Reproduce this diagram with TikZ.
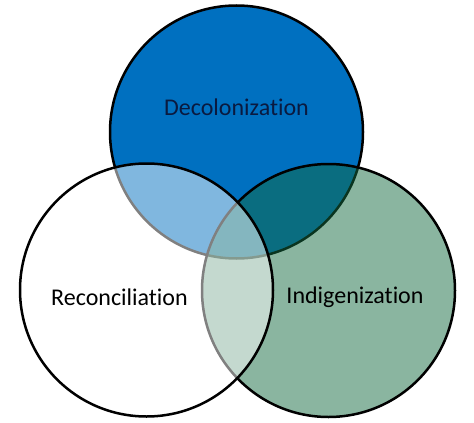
\documentclass[tikz,border=0pt]{standalone}
\usepackage{fontspec}
\setmainfont[Ligatures={NoCommon,NoContextual}]{Carlito}
\usepackage{tikz}
\usetikzlibrary{positioning}
\definecolor{decoblue}{RGB}{0,112,192}
\definecolor{indigreen}{RGB}{21,107,65}
\definecolor{decotext}{RGB}{10,26,64}

\begin{document}
\begin{tikzpicture}[x=1pt,y=-1pt,
    venn/.style={circle,draw=black,line width=2.5pt,minimum size=253pt,inner sep=0pt},
    lbl/.style={font=\fontsize{24}{28}\selectfont,inner sep=0pt}]
    \useasboundingbox (0,0) rectangle (474,423);
    % circles: blue at the bottom, white on top
    \node[venn,fill=decoblue] (deco) at (236.5,132) {};
    \node[venn,fill=indigreen,fill opacity=0.5] (indi) at (328.5,290.5) {};
    \node[venn,fill=white,fill opacity=0.5] (reco) at (146.5,290) {};
    % labels
    \node[lbl,text=decotext] (decolbl) at ([yshift=25pt]deco.center) {Decolonization};
    \node[lbl] (recolbl) at ([xshift=-27pt,yshift=-7pt]reco.center) {Reconciliation};
    \node[lbl] (indilbl) at ([xshift=26.5pt,yshift=-6.5pt]indi.center) {Indigenization};
\end{tikzpicture}
\end{document}
